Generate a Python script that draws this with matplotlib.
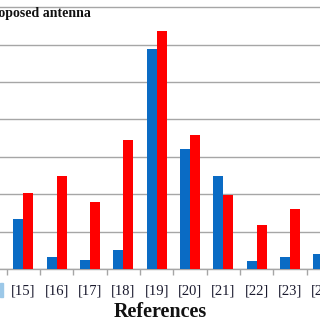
import matplotlib
matplotlib.use("Agg")
import matplotlib.pyplot as plt
import matplotlib.transforms as mtransforms
import numpy as np
from matplotlib.patches import Rectangle

categories = ["[14]", "[15]", "[16]", "[17]", "[18]", "[19]", "[20]", "[21]", "[22]", "[23]", "[24]"]
reported = [0.4, 1.34, 0.32, 0.24, 0.5, 5.88, 3.2, 2.49, 0.21, 0.32, 0.4]
proposed = [1.0, 2.03, 2.49, 1.79, 3.45, 6.36, 3.58, 1.98, 1.18, 1.6, 2.0]
legend_label = "Proposed antenna"
xlabel = "References"

plt.rcParams['font.family'] = ['Liberation Serif', 'DejaVu Serif']

fig = plt.figure(figsize=(3.2, 3.2), dpi=100)
ax = fig.add_axes([0.0, 1 - 269 / 320, 1.0, 269 / 320])

x = np.arange(len(categories))
w = 0.3
ax.bar(x - w / 2, reported, width=w, color="#0A6BC4", zorder=3)
ax.bar(x + w / 2, proposed, width=w, color="#FF0000", zorder=3)

ax.set_yticks(np.arange(0, 8))
ax.yaxis.grid(True, color="#A6A6A6", linewidth=1.0, zorder=0)
ax.tick_params(axis="y", left=False, labelleft=False)

ax.set_xticks(x[:-1] + 0.5)
ax.set_xticklabels([])
ax.tick_params(axis="x", which="major", direction="out", length=4, color="#A6A6A6", width=1)

ax.set_xlim(0.3 + 1e-3, 9.9)
ax.set_ylim(0, 269 / 37.4)

trans = mtransforms.blended_transform_factory(ax.transData, fig.transFigure)
for xi, lab in zip(x, categories):
    ax.text(xi, 1 - 291 / 320, lab, transform=trans, fontsize=10.5,
            ha="center", va="center", color="#1a1a2e", clip_on=False)

for s in ["top", "left", "right"]:
    ax.spines[s].set_visible(False)
ax.spines["bottom"].set_color("#A6A6A6")
ax.spines["bottom"].set_linewidth(1.0)

ax.text(-16 / 320, 1 - 14 / 269, legend_label, transform=ax.transAxes,
        fontsize=10, fontweight="bold", ha="left", va="center", color="#111111")

fig.text(0.5, 1 - 312 / 320, xlabel, fontsize=14.5, fontweight="bold",
         ha="center", va="center", color="#111111")

fig.patches.append(Rectangle((0, 1 - 297 / 320), 3 / 320, 14 / 320,
                             transform=fig.transFigure, color="#9CC8E8", zorder=5))

fig.savefig("out.png", dpi=100)
